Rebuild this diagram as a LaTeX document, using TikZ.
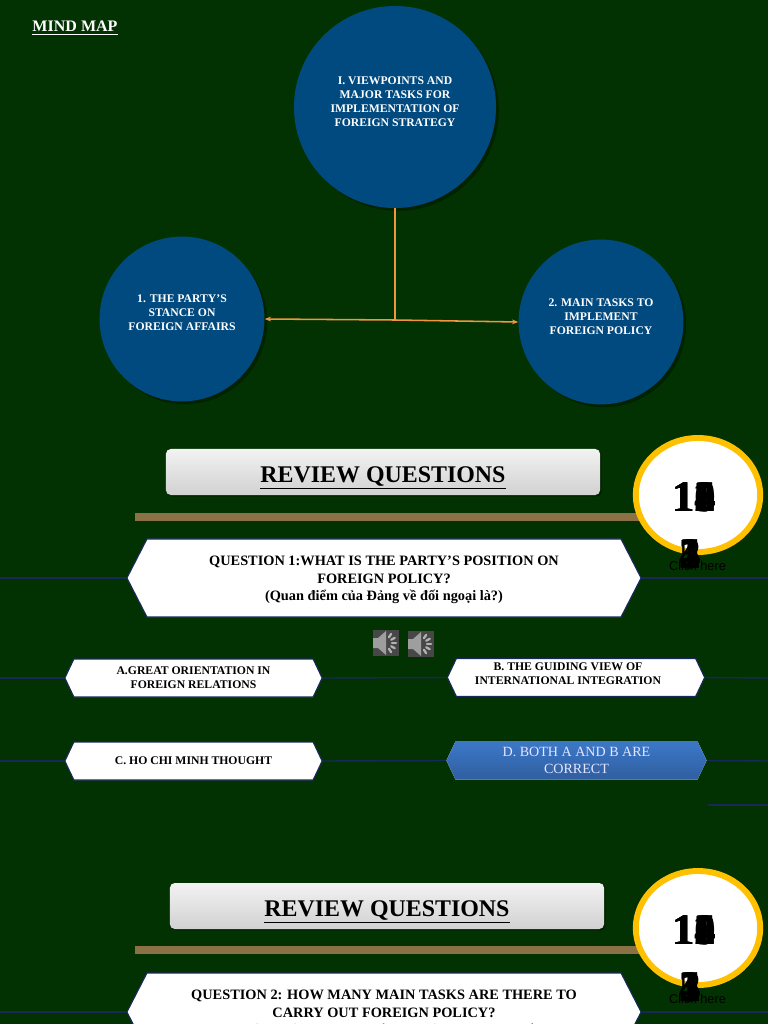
\documentclass[tikz,border=0pt]{standalone}
\usepackage{fontspec}
\setmainfont{Liberation Serif}
\setsansfont{Liberation Sans}
\usetikzlibrary{arrows.meta,shapes.symbols,shapes.geometric,shadows}
\definecolor{bgG}{RGB}{2,50,2}
\definecolor{circB}{RGB}{0,74,128}
\definecolor{lineN}{RGB}{25,40,90}
\definecolor{wireO}{RGB}{240,150,60}
\definecolor{barBr}{RGB}{140,112,70}
\definecolor{timerY}{RGB}{255,192,0}
\definecolor{ansB}{RGB}{60,120,200}
\definecolor{ansD}{RGB}{48,94,160}
\begin{document}
\begin{tikzpicture}[x=0.025cm, y=-0.025cm, >={Stealth[length=1.6mm]},
  topic/.style={circle, fill=circB, minimum size=5.05cm, inner sep=0pt,
                drop shadow={fill=black, shadow xshift=.7mm, shadow yshift=-.7mm, opacity=.3}},
  topictxt/.style={text=white, align=center, inner sep=0pt, yshift=0.125cm,
                   font=\fontsize{8.3}{10}\selectfont\bfseries},
  wire/.style={draw=wireO, line width=1.1pt},
  titlebox/.style={rectangle, rounded corners=1.2mm, top color=white!95!black, bottom color=black!18,
                   minimum width=10.85cm, minimum height=1.15cm,
                   drop shadow={fill=black, shadow xshift=.4mm, shadow yshift=-.4mm, opacity=.3}},
  titletxt/.style={inner sep=0pt, yshift=-0.14cm, font=\fontsize{17}{20}\selectfont\bfseries},
  bar/.style={fill=barBr, minimum width=12.62cm, minimum height=0.2cm, inner sep=0pt},
  timer/.style={ellipse, draw=timerY, fill=white, line width=4.2pt, minimum width=3.11cm,
                minimum height=2.85cm, inner sep=0pt},
  bigq/.style={signal, signal to=west and east, signal pointer angle=125.7,
               draw=lineN, fill=white, thick, minimum width=12.85cm, minimum height=1.95cm, inner sep=0pt},
  bigqtxt/.style={align=center, inner sep=0pt, yshift=-0.05cm, font=\fontsize{10.2}{12.4}\selectfont\bfseries},
  ans/.style={signal, signal to=west and east, signal pointer angle=129.3,
              draw=lineN, fill=white, thick, minimum width=6.43cm, minimum height=0.95cm, inner sep=0pt},
  anstxt/.style={align=center, inner sep=0pt, font=\fontsize{8.33}{10}\selectfont\bfseries},
  link/.style={draw=lineN, line width=1pt}]
  \useasboundingbox (0,0) rectangle (768,1024);
  \clip (0,0) rectangle (768,1024);
  \fill[bgG] (0,0) rectangle (768,1024);

  \node[text=white, font=\fontsize{11.4}{13}\selectfont\bfseries] (mind) at (75,28) {\underline{MIND MAP}};

  % mind map
  \node[topic, label={[topictxt]center:{I. VIEWPOINTS AND\\MAJOR TASKS FOR\\IMPLEMENTATION OF\\FOREIGN STRATEGY}}] (main) at (395,107) {};
  \node[topic, minimum size=4.12cm, label={[topictxt, yshift=0.03cm]center:{1. THE PARTY'S\\STANCE ON\\FOREIGN AFFAIRS}}] (stance) at (182,319) {};
  \node[topic, minimum size=4.12cm, label={[topictxt]center:{2. MAIN TASKS TO\\IMPLEMENT\\FOREIGN POLICY}}] (tasks) at (601,322) {};
  \coordinate (fork) at (395,320);
  \draw[wire] (main) -- (fork);
  \draw[wire, ->] (fork) -- (stance.east);
  \draw[wire, ->] (fork) -- (tasks.west);

  % first question
  \node[titlebox, label={[titletxt]center:{\underline{REVIEW QUESTIONS}}}] (rev1) at (383,472) {};
  \node[bar] (bar1) at (387,517) {};
  \node[bigq, label={[bigqtxt]center:{QUESTION 1:WHAT IS THE PARTY'S POSITION ON\\FOREIGN POLICY?\\(Quan điểm của Đảng về đối ngoại là?)}}] (q1) at (384,578) {};
  \node[ans, label={[anstxt]center:{A.GREAT ORIENTATION IN\\FOREIGN RELATIONS}}] (a1) at (193.5,678) {};
  \node[ans, label={[anstxt, xshift=-0.2cm, yshift=0.09cm]center:{B. THE GUIDING VIEW OF\\INTERNATIONAL INTEGRATION}}] (b1) at (576,677.5) {};
  \node[ans, label={[anstxt]center:{C. HO CHI MINH THOUGHT}}] (c1) at (193.5,761) {};
  \node[ans, draw=none, top color=ansB, bottom color=ansD, minimum width=6.5cm,
        label={[anstxt, text=white!90!blue, font=\fontsize{10}{12}\selectfont]center:{D. BOTH A AND B ARE\\CORRECT}}] (d1) at (576.5,760.5) {};

  \coordinate (l0) at (0,578);  \coordinate (r0) at (768,578);
  \coordinate (l1) at (0,678);  \coordinate (r1) at (768,678);
  \coordinate (l2) at (0,761);  \coordinate (r2) at (768,761);
  \coordinate (e0) at (708,805); \coordinate (e1) at (768,805);
  \draw[link] (l0) -- (q1.west);
  \draw[link] (q1.east) -- (r0);
  \draw[link] (l1) -- (a1.west);
  \draw[link] (a1.east) -- (b1.west);
  \draw[link] (b1.east) -- (r1);
  \draw[link] (l2) -- (c1.west);
  \draw[link] (c1.east) -- (d1.west);
  \draw[link] (d1.east) -- (r2);
  \draw[link] (e0) -- (e1);

  % sound icons
  \foreach \sx/\sy in {386/643,421/644}{
    \fill[black!72] (\sx-13,\sy-13) rectangle (\sx+13,\sy+13);
    \fill[black!38] (\sx-13,\sy-5) -- (\sx-8,\sy-5) -- (\sx,\sy-12) -- (\sx,\sy+12) -- (\sx-8,\sy+5) -- (\sx-13,\sy+5) -- cycle;
    \foreach \ang in {-56,-28,0,28,56}
      \draw[black!30, line width=1.6pt, line cap=round] (\sx-1,\sy) ++(\ang:7) -- ++(\ang:4);
  }

  % second question
  \node[titlebox, label={[titletxt]center:{\underline{REVIEW QUESTIONS}}}] (rev2) at (387,906) {};
  \node[bar] (bar2) at (387,950) {};
  \node[bigq, label={[bigqtxt]center:{QUESTION 2: HOW MANY MAIN TASKS ARE THERE TO\\CARRY OUT FOREIGN POLICY?\\(Có bao nhiêu nhiệm vụ chính để thực hiện chính sách đối ngoại?)}}] (q2) at (384,1012) {};
  \coordinate (l3) at (0,1012);  \coordinate (r3) at (768,1012);
  \draw[link] (l3) -- (q2.west);
  \draw[link] (q2.east) -- (r3);

  % timers
  \foreach \tname/\ty in {one/495,two/928}{
    \node[timer] (timer\tname) at (698,\ty) {};
    \node[font=\sffamily\fontsize{9.1}{10}\selectfont, text=black] (click\tname) at (697.5,\ty+71) {Click here};
    \foreach \num in {10,11,12,13,14,15}
      \node[font=\fontsize{31}{34}\selectfont\bfseries] at (694,\ty+2) {\num};
    \foreach \num in {1,2,3,4,5}
      \node[font=\fontsize{31}{34}\selectfont\bfseries] at (690,\ty+59) {\num};
  }
\end{tikzpicture}
\end{document}
